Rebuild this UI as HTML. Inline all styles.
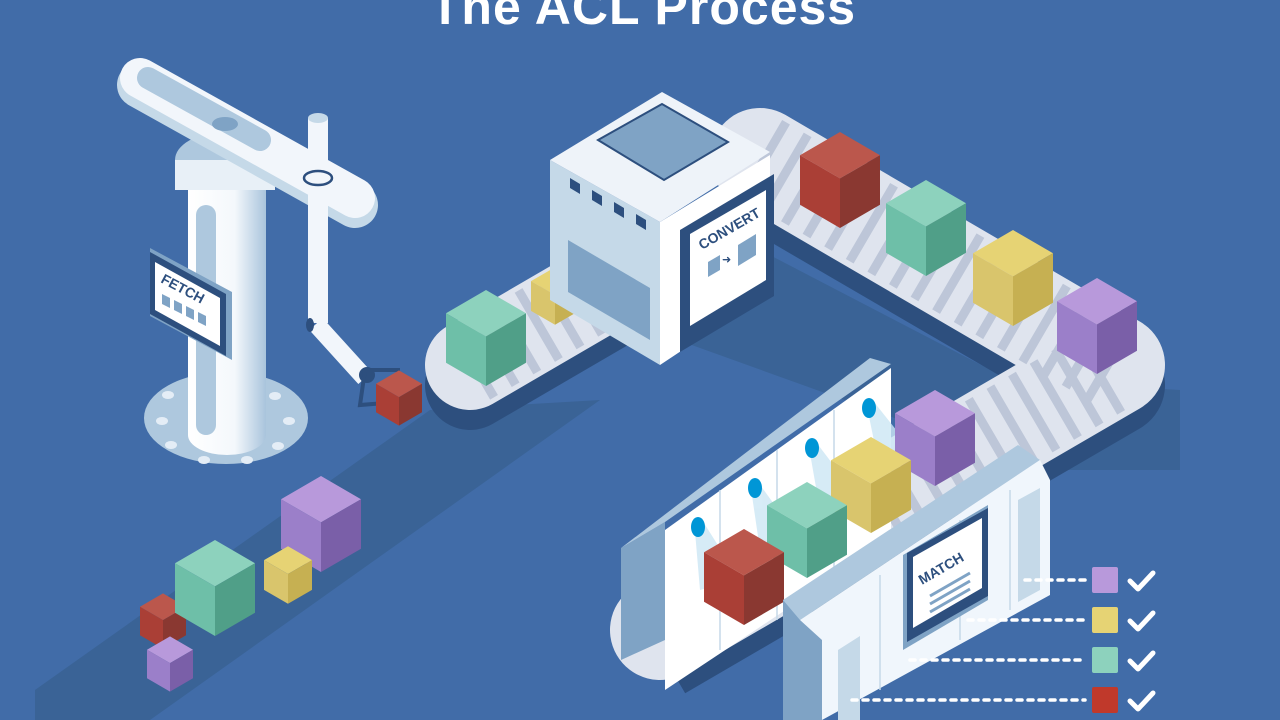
<!DOCTYPE html>
<html><head><meta charset="utf-8"><style>
html,body{margin:0;padding:0;background:#416ca8;}
svg{display:block}
</style></head><body>
<svg width="1280" height="720" viewBox="0 0 1280 720" xmlns="http://www.w3.org/2000/svg">
<defs>
<g id="cP"><polygon points="0,-1.2 1,-0.62 0,-0.04 -1,-0.62" fill="#b899db"/><polygon points="-1,-0.62 0,-0.04 0,1.2 -1,0.62" fill="#9b7fc9"/><polygon points="0,-0.04 1,-0.62 1,0.62 0,1.2" fill="#7a5fa8"/></g>
<g id="cG"><polygon points="0,-1.2 1,-0.62 0,-0.04 -1,-0.62" fill="#8dd2bd"/><polygon points="-1,-0.62 0,-0.04 0,1.2 -1,0.62" fill="#6ebfa8"/><polygon points="0,-0.04 1,-0.62 1,0.62 0,1.2" fill="#509f88"/></g>
<g id="cY"><polygon points="0,-1.2 1,-0.62 0,-0.04 -1,-0.62" fill="#e6d374"/><polygon points="-1,-0.62 0,-0.04 0,1.2 -1,0.62" fill="#d9c56c"/><polygon points="0,-0.04 1,-0.62 1,0.62 0,1.2" fill="#c6b052"/></g>
<g id="cR"><polygon points="0,-1.2 1,-0.62 0,-0.04 -1,-0.62" fill="#bb574c"/><polygon points="-1,-0.62 0,-0.04 0,1.2 -1,0.62" fill="#aa3f36"/><polygon points="0,-0.04 1,-0.62 1,0.62 0,1.2" fill="#8a3831"/></g>
<linearGradient id="col" x1="0" x2="1"><stop offset="0" stop-color="#ffffff"/><stop offset="0.6" stop-color="#f4f8fc"/><stop offset="1" stop-color="#a9c4dc"/></linearGradient>
</defs>
<rect width="1280" height="720" fill="#416ca8"/>
<!-- title -->
<text x="643" y="24" text-anchor="middle" font-family="Liberation Sans, sans-serif" font-weight="bold" font-size="50" fill="#fff" letter-spacing="1">The ACL Process</text>

<!-- shadows -->
<polygon points="35,690 430,410 600,400 150,720 35,720" fill="#3a6396"/>
<polygon points="650,330 760,250 1010,380 1180,390 1180,470 1050,470 900,420" fill="#3a6396"/>

<!-- top right belt -->
<polyline points="760,178 1115,385 660,650" fill="none" stroke="#2d4f7e" stroke-width="100" stroke-linejoin="round"/>
<polyline points="760,158 1115,365 660,630" fill="none" stroke="#dfe4ee" stroke-width="100" stroke-linejoin="round" stroke-linecap="round"/>
<polyline points="760,158 1115,365 660,630" fill="none" stroke="#bdc6d8" stroke-width="88" stroke-dasharray="9 16" stroke-linejoin="round"/>

<!-- left belt -->
<line x1="470" y1="385" x2="640" y2="286" stroke="#2d4f7e" stroke-width="90" stroke-linecap="round"/>
<line x1="470" y1="365" x2="640" y2="266" stroke="#dfe4ee" stroke-width="90" stroke-linecap="round"/>
<line x1="470" y1="365" x2="640" y2="266" stroke="#bdc6d8" stroke-width="80" stroke-dasharray="9 16"/>

<!-- top belt cubes -->
<use href="#cR" transform="translate(840,180) scale(40)"/>
<use href="#cG" transform="translate(926,228) scale(40)"/>
<use href="#cY" transform="translate(1013,278) scale(40)"/>
<use href="#cP" transform="translate(1097,326) scale(40)"/>

<!-- left belt cubes -->
<use href="#cP" transform="translate(607,260) scale(24)"/>
<use href="#cY" transform="translate(555,296) scale(24)"/>
<use href="#cG" transform="translate(486,338) scale(40)"/>

<!-- convert machine -->
<polygon points="550,160 660,222 660,365 550,300" fill="#c5d9e8"/>
<polygon points="568,240 650,288 650,340 568,292" fill="#7fa3c5"/>
<polygon points="660,222 770,155 770,292 660,365" fill="#ffffff"/>
<polygon points="550,160 662,92 770,152 660,222" fill="#eef3f9"/>
<polygon points="598,140 662,104 728,142 664,180" fill="#7fa3c5" stroke="#2d4f7e" stroke-width="2"/>
<g fill="#2d4f7e"><polygon points="570,178 580,184 580,194 570,188"/><polygon points="592,190 602,196 602,206 592,200"/><polygon points="614,202 624,208 624,218 614,212"/><polygon points="636,214 646,220 646,230 636,224"/></g>
<polygon points="680,230 774,174 774,296 680,352" fill="#2d4f7e"/>
<polygon points="690,234 766,190 766,280 690,326" fill="#fff"/>
<text transform="translate(702,250) rotate(-30)" font-family="Liberation Sans, sans-serif" font-weight="bold" font-size="14" fill="#2d4f7e">CONVERT</text>
<polygon points="708,262 720,255 720,270 708,277" fill="#7fa3c5"/>
<polygon points="738,245 756,234 756,255 738,266" fill="#7fa3c5"/>
<text x="722" y="263" font-family="DejaVu Sans, sans-serif" font-size="11" fill="#2d4f7e">➜</text>

<!-- fetch robot -->
<ellipse cx="226" cy="418" rx="82" ry="46" fill="#aec8de"/>
<g fill="#e4edf6"><ellipse cx="168" cy="395" rx="6" ry="4"/><ellipse cx="162" cy="421" rx="6" ry="4"/><ellipse cx="171" cy="445" rx="6" ry="4"/><ellipse cx="204" cy="460" rx="6" ry="4"/><ellipse cx="247" cy="460" rx="6" ry="4"/><ellipse cx="278" cy="446" rx="6" ry="4"/><ellipse cx="289" cy="421" rx="6" ry="4"/><ellipse cx="275" cy="396" rx="6" ry="4"/></g>
<rect x="188" y="170" width="78" height="265" fill="url(#col)"/>
<ellipse cx="227" cy="435" rx="39" ry="20" fill="url(#col)"/>
<rect x="196" y="205" width="20" height="230" rx="10" fill="#aec8de"/>
<ellipse cx="225" cy="160" rx="50" ry="28" fill="#aec8de"/>
<rect x="175" y="160" width="100" height="30" fill="#e8f0f7"/>
<line x1="140" y1="85" x2="355" y2="205" stroke="#c5d9e8" stroke-width="46" stroke-linecap="round"/>
<line x1="140" y1="78" x2="355" y2="198" stroke="#f2f6fb" stroke-width="40" stroke-linecap="round"/>
<line x1="148" y1="78" x2="260" y2="140" stroke="#aec8de" stroke-width="22" stroke-linecap="round"/>
<ellipse cx="225" cy="124" rx="13" ry="7" fill="#7fa3c5"/>
<rect x="308" y="118" width="20" height="205" fill="#f2f6fb"/>
<ellipse cx="318" cy="118" rx="10" ry="5" fill="#c5d9e8"/>
<ellipse cx="318" cy="178" rx="14" ry="7" fill="none" stroke="#2d4f7e" stroke-width="2.5"/>
<line x1="316" y1="324" x2="365" y2="378" stroke="#f2f6fb" stroke-width="18"/>
<ellipse cx="310" cy="325" rx="4" ry="7" fill="#2d4f7e"/>
<circle cx="367" cy="375" r="8" fill="#2d4f7e"/>
<polyline points="400,370 365,370 360,405 385,403" fill="none" stroke="#2d4f7e" stroke-width="4"/>
<use href="#cR" transform="translate(399,398) scale(23)"/>
<polygon points="150,248 232,292 232,360 150,316" fill="#7fa3c5"/>
<polygon points="150,252 226,294 226,356 150,314" fill="#2d4f7e"/>
<polygon points="155,262 220,298 220,346 155,310" fill="#fff"/>
<text transform="translate(160,282) rotate(28)" font-family="Liberation Sans, sans-serif" font-weight="bold" font-size="14" fill="#2d4f7e">FETCH</text>
<g fill="#7fa3c5"><polygon points="162,294 170,298 170,308 162,304"/><polygon points="174,300 182,304 182,314 174,310"/><polygon points="186,306 194,310 194,320 186,316"/><polygon points="198,312 206,316 206,326 198,322"/></g>

<!-- bottom-left cubes -->
<use href="#cP" transform="translate(321,524) scale(40)"/>
<use href="#cY" transform="translate(288,575) scale(24)"/>
<use href="#cR" transform="translate(163,621) scale(23)"/>
<use href="#cG" transform="translate(215,588) scale(40)"/>
<use href="#cP" transform="translate(170,664) scale(23)"/>

<!-- match machine back wall -->
<polygon points="621,548 665,522 665,640 621,660" fill="#7fa3c5"/>
<polygon points="621,548 870,358 891,364 665,522" fill="#aec8de"/>
<polygon points="665,530 891,368 891,540 665,690" fill="#ffffff"/>
<g stroke="#c5d9e8" stroke-width="1.5"><line x1="720" y1="490" x2="720" y2="650"/><line x1="777" y1="450" x2="777" y2="620"/><line x1="834" y1="410" x2="834" y2="580"/></g>
<g fill="#cde7f5" opacity="0.8"><polygon points="694,520 702,520 740,580 700,590"/><polygon points="750,482 758,482 800,540 760,550"/><polygon points="808,442 816,442 860,500 820,510"/><polygon points="866,402 874,402 920,460 880,470"/></g>
<g fill="#0096d6"><ellipse cx="698" cy="527" rx="7" ry="10"/><ellipse cx="755" cy="488" rx="7" ry="10"/><ellipse cx="812" cy="448" rx="7" ry="10"/><ellipse cx="869" cy="408" rx="7" ry="10"/></g>
<!-- lower belt re-stripes under machine handled by belt above -->
<use href="#cP" transform="translate(935,438) scale(40)"/>
<use href="#cY" transform="translate(871,485) scale(40)"/>
<use href="#cG" transform="translate(807,530) scale(40)"/>
<use href="#cR" transform="translate(744,577) scale(40)"/>
<!-- front housing -->
<polygon points="783,600 800,592 822,630 822,720 783,720" fill="#7fa3c5"/>
<polygon points="783,600 1018,445 1040,460 800,620" fill="#aec8de"/>
<polygon points="800,620 1040,460 1050,480 1050,595 822,720 822,640" fill="#f0f6fc"/>
<g stroke="#c5d9e8" stroke-width="1.5"><line x1="880" y1="575" x2="880" y2="690"/><line x1="960" y1="520" x2="960" y2="640"/><line x1="1010" y1="490" x2="1010" y2="610"/></g>
<polygon points="838,650 860,636 860,720 838,720" fill="#c5d9e8"/>
<polygon points="1018,500 1040,488 1040,590 1018,602" fill="#c5d9e8"/>
<polygon points="903,555 988,505 988,600 903,650" fill="#7fa3c5"/>
<polygon points="907,553 988,508 988,596 907,642" fill="#2d4f7e"/>
<polygon points="913,557 982,518 982,588 913,628" fill="#fff"/>
<text transform="translate(922,585) rotate(-30)" font-family="Liberation Sans, sans-serif" font-weight="bold" font-size="14" fill="#2d4f7e">MATCH</text>
<g stroke="#7fa3c5" stroke-width="3"><line x1="930" y1="596" x2="970" y2="573"/><line x1="930" y1="604" x2="970" y2="581"/><line x1="930" y1="612" x2="970" y2="589"/></g>

<!-- legend -->
<g stroke="#fff" stroke-width="3.5" stroke-dasharray="5 6" stroke-linecap="round">
<line x1="1025" y1="580" x2="1085" y2="580"/><line x1="968" y1="620" x2="1085" y2="620"/><line x1="910" y1="660" x2="1085" y2="660"/><line x1="852" y1="700" x2="1085" y2="700"/></g>
<rect x="1092" y="567" width="26" height="26" rx="2" fill="#b899db"/>
<rect x="1092" y="607" width="26" height="26" rx="2" fill="#e6d374"/>
<rect x="1092" y="647" width="26" height="26" rx="2" fill="#8dd2bd"/>
<rect x="1092" y="687" width="26" height="26" rx="2" fill="#c0392b"/>
<g fill="none" stroke="#fff" stroke-width="5" stroke-linecap="round" stroke-linejoin="round">
<polyline points="1130,581 1138,589 1153,573"/><polyline points="1130,621 1138,629 1153,613"/><polyline points="1130,661 1138,669 1153,653"/><polyline points="1130,701 1138,709 1153,693"/></g>
</svg>
</body></html>
